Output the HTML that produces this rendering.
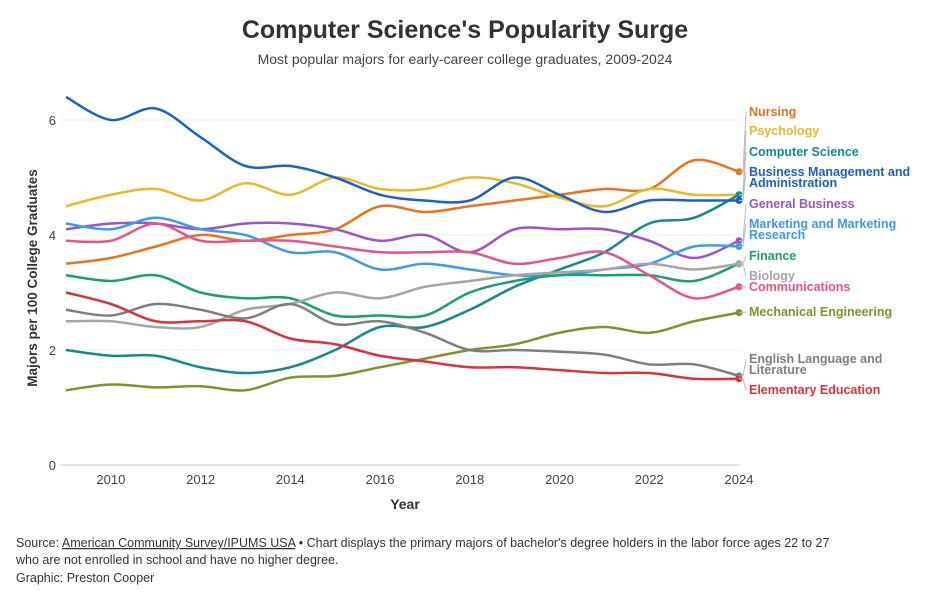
<!DOCTYPE html>
<html><head><meta charset="utf-8"><style>
body{margin:0;background:#fff;font-family:"Liberation Sans",sans-serif;}
svg text{font-family:"Liberation Sans",sans-serif;}
</style></head><body>
<svg id="chart" width="930" height="596" xmlns="http://www.w3.org/2000/svg">
<text x="465" y="38" text-anchor="middle" font-size="25" font-weight="bold" fill="#333">Computer Science's Popularity Surge</text>
<text x="465" y="64" text-anchor="middle" font-size="14" fill="#444">Most popular majors for early-career college graduates, 2009-2024</text>
<g id="grid"></g><g id="axes"></g><g id="lines"></g><g id="labels"></g>
<text x="405" y="509" text-anchor="middle" font-size="14" font-weight="bold" fill="#333">Year</text>
<text transform="translate(37,278) rotate(-90)" text-anchor="middle" font-size="13.5" font-weight="bold" fill="#333">Majors per 100 College Graduates</text>
<g font-size="12.5" fill="#333">
<text x="16" y="547">Source: <tspan text-decoration="underline">American Community Survey/IPUMS USA</tspan> • Chart displays the primary majors of bachelor's degree holders in the labor force ages 22 to 27</text>
<text x="16" y="564">who are not enrolled in school and have no higher degree.</text>
<text x="16" y="582">Graphic: Preston Cooper</text>
</g>
</svg>
<script>
const years=[2009,2010,2011,2012,2013,2014,2015,2016,2017,2018,2019,2020,2021,2022,2023,2024];
const xTicks=[2010,2012,2014,2016,2018,2020,2022,2024];
const yTicks=[0,2,4,6];
const nursing=[3.5,3.6,3.8,4.0,3.9,4.0,4.1,4.5,4.4,4.5,4.6,4.7,4.8,4.8,5.3,5.1];
const psychology=[4.5,4.7,4.8,4.6,4.9,4.7,5.0,4.8,4.8,5.0,4.9,4.65,4.5,4.8,4.7,4.7];
const compSci=[2.0,1.9,1.9,1.7,1.6,1.7,2.0,2.4,2.4,2.7,3.1,3.4,3.7,4.2,4.3,4.7];
const business=[6.4,6.0,6.2,5.7,5.2,5.2,5.0,4.7,4.6,4.6,5.0,4.7,4.4,4.6,4.6,4.6];
const genBusiness=[4.1,4.2,4.2,4.1,4.2,4.2,4.1,3.9,4.0,3.7,4.1,4.1,4.1,3.9,3.6,3.9];
const marketing=[4.2,4.1,4.3,4.1,4.0,3.7,3.7,3.4,3.5,3.4,3.3,3.3,3.4,3.5,3.8,3.8];
const finance=[3.3,3.2,3.3,3.0,2.9,2.9,2.6,2.6,2.6,3.0,3.2,3.3,3.3,3.3,3.2,3.5];
const biology=[2.5,2.5,2.4,2.4,2.7,2.8,3.0,2.9,3.1,3.2,3.3,3.35,3.4,3.5,3.4,3.5];
const communications=[3.9,3.9,4.2,3.9,3.9,3.9,3.8,3.7,3.7,3.7,3.5,3.6,3.7,3.3,2.9,3.1];
const mechEng=[1.3,1.4,1.35,1.37,1.3,1.52,1.55,1.7,1.85,2.0,2.1,2.3,2.4,2.3,2.5,2.65];
const english=[2.7,2.6,2.8,2.7,2.55,2.8,2.45,2.5,2.3,2.0,2.0,1.97,1.92,1.75,1.75,1.55];
const elementary=[3.0,2.8,2.5,2.5,2.5,2.2,2.1,1.9,1.8,1.7,1.7,1.65,1.6,1.6,1.5,1.5];
const seriesNames=["Nursing","Psychology","Computer Science","Business Management and|Administration","General Business","Marketing and Marketing|Research","Finance","Biology","Communications","Mechanical Engineering","English Language and|Literature","Elementary Education"];
const seriesData=[nursing,psychology,compSci,business,genBusiness,marketing,finance,biology,communications,mechEng,english,elementary];
const colors=["#e8731c","#e9bb2a","#158a8a","#1f5fc8","#9b55cc","#3d9be8","#1aa06e","#a6a6a6","#e5548a","#7f9430","#7f7f7f","#d8343d"];
const labelY=[116,135,156,176,208,228,260,280,291,316,363,394];
const NS="http://www.w3.org/2000/svg";
const x=y=>66+(y-2009)*(739-66)/15;
const yv=v=>465-v*57.5;
function mk(t,a,p){const e=document.createElementNS(NS,t);for(const k in a)e.setAttribute(k,a[k]);p.appendChild(e);return e;}
const grid=document.getElementById('grid'),axes=document.getElementById('axes');
yTicks.forEach(t=>{
 const l=mk('line',{x1:60,x2:740,y1:yv(t),y2:yv(t),stroke:t===0?'#ccc':'#ececec'},grid);
 
 
 const tx=mk('text',{x:56,y:yv(t)+5,'text-anchor':'end','font-size':13,fill:'#444'},axes);tx.textContent=t;
 
 
});
xTicks.forEach(t=>{
 const tx=mk('text',{x:x(t),y:484,'text-anchor':'middle','font-size':13,fill:'#444'},axes);tx.textContent=t;
 
 
});
function path(d){const p=d.map((v,i)=>[x(years[i]),yv(v)]);let s=`M${p[0][0]},${p[0][1]}`;
 for(let i=0;i<p.length-1;i++){const p0=p[Math.max(0,i-1)],p1=p[i],p2=p[i+1],p3=p[Math.min(p.length-1,i+2)];
 const c1=[p1[0]+(p2[0]-p0[0])/6,p1[1]+(p2[1]-p0[1])/6],c2=[p2[0]-(p3[0]-p1[0])/6,p2[1]-(p3[1]-p1[1])/6];
 s+=`C${c1[0]},${c1[1]} ${c2[0]},${c2[1]} ${p2[0]},${p2[1]}`;}return s;}
const lg=document.getElementById('lines'),lb=document.getElementById('labels');
seriesData.forEach((d,i)=>{
 const p=mk('path',{d:path(d),fill:'none',stroke:colors[i],'stroke-width':2.5},lg);
 
 
 const ex=x(years[years.length-1]),ey=yv(d[d.length-1]);
 const c=mk('circle',{cx:ex,cy:ey,r:3.5,fill:colors[i]},lg);
 
 
 const ly=labelY[i]-4;
 mk('path',{d:`M${ex},${ey} L${ex+4},${ey} L${746},${ly}`,fill:'none',stroke:'#bbb','stroke-width':1},lb);
 const parts=seriesNames[i].split('|');
 const t=mk('text',{x:749,y:labelY[i],'font-size':12.5,'font-weight':'bold',fill:colors[i]},lb);
 
 
 parts.forEach((s,j)=>{const ts=mk('tspan',{x:749,dy:j?11:0},t);ts.textContent=s;});
});
</script>
</body></html>
